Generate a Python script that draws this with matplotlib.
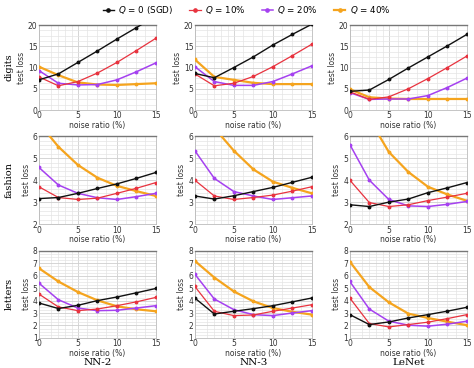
import matplotlib
matplotlib.use("Agg")
import matplotlib.pyplot as plt
from matplotlib.ticker import MultipleLocator, FixedLocator

# noise ratio (%)
noise = [0, 2.5, 5, 7.5, 10, 12.5, 15]

labels = ["$Q$ = 0 (SGD)", "$Q$ = 10%", "$Q$ = 20%", "$Q$ = 40%"]
colors = ["#111111", "#e8333f", "#a541f0", "#f5a41e"]
widths = [1.0, 0.9, 1.1, 1.6]

datasets = ["digits", "fashion", "letters"]
models = ["NN-2", "NN-3", "LeNet"]

# test loss, one list per Q setting: [Q0, Q10, Q20, Q40]
digits_nn2 = [[7.1, 8.5, 11.2, 13.9, 16.7, 19.4, 22.1],
              [7.8, 5.7, 6.7, 8.7, 11.2, 14.0, 16.9],
              [9.3, 6.3, 5.9, 6.0, 7.1, 9.0, 11.1],
              [10.2, 8.2, 6.5, 6.0, 5.9, 6.1, 6.3]]
digits_nn3 = [[8.6, 7.6, 10.0, 12.5, 15.3, 17.8, 20.2],
              [8.5, 5.7, 6.3, 7.9, 10.2, 12.8, 15.5],
              [10.2, 6.7, 5.8, 5.8, 6.7, 8.5, 10.4],
              [11.9, 7.8, 7.1, 6.4, 6.1, 6.1, 6.1]]
digits_lenet = [[4.4, 4.7, 7.2, 9.9, 12.5, 15.1, 17.8],
                [4.3, 2.5, 3.1, 5.0, 7.4, 10.0, 12.7],
                [4.1, 2.5, 2.6, 2.6, 3.4, 5.3, 7.5],
                [4.9, 3.0, 2.7, 2.6, 2.6, 2.6, 2.6]]

fashion_nn2 = [[3.16, 3.21, 3.40, 3.62, 3.83, 4.08, 4.35],
               [3.70, 3.21, 3.12, 3.18, 3.40, 3.63, 3.89],
               [4.58, 3.78, 3.40, 3.20, 3.12, 3.25, 3.40],
               [6.60, 5.52, 4.69, 4.11, 3.74, 3.50, 3.28]]
fashion_nn3 = [[3.28, 3.14, 3.29, 3.48, 3.67, 3.90, 4.13],
               [4.00, 3.28, 3.12, 3.21, 3.32, 3.50, 3.70],
               [5.34, 4.08, 3.48, 3.28, 3.12, 3.20, 3.28],
               [7.50, 6.37, 5.34, 4.49, 3.93, 3.65, 3.40]]
fashion_lenet = [[2.88, 2.80, 3.00, 3.14, 3.43, 3.65, 3.89],
                 [4.00, 2.98, 2.80, 2.88, 3.07, 3.23, 3.40],
                 [5.62, 4.00, 3.12, 2.83, 2.80, 2.90, 3.03],
                 [8.50, 6.78, 5.28, 4.37, 3.70, 3.35, 3.06]]

letters_nn2 = [[3.81, 3.36, 3.62, 4.00, 4.29, 4.63, 4.98],
               [4.53, 3.49, 3.19, 3.32, 3.59, 3.90, 4.26],
               [5.41, 4.07, 3.40, 3.19, 3.22, 3.40, 3.59],
               [6.61, 5.54, 4.69, 4.02, 3.54, 3.30, 3.14]]
letters_nn3 = [[4.21, 2.92, 3.14, 3.35, 3.59, 3.90, 4.21],
               [5.14, 3.14, 2.79, 2.84, 3.14, 3.40, 3.67],
               [6.13, 4.13, 3.27, 2.87, 2.79, 3.00, 3.19],
               [7.20, 5.86, 4.74, 3.94, 3.40, 3.10, 2.87]]
letters_lenet = [[2.87, 2.07, 2.28, 2.60, 2.87, 3.15, 3.46],
                 [4.21, 2.15, 1.88, 2.07, 2.26, 2.55, 2.87],
                 [5.54, 3.32, 2.34, 2.02, 1.94, 2.10, 2.34],
                 [7.14, 5.09, 3.86, 2.95, 2.60, 2.30, 2.02]]

results = [[digits_nn2, digits_nn3, digits_lenet],
           [fashion_nn2, fashion_nn3, fashion_lenet],
           [letters_nn2, letters_nn3, letters_lenet]]

y_limits = [(0, 20), (2, 6), (1, 8)]
y_major = [5, 1, 1]
y_minor = [1.25, 0.2, 0.25]
x_minor = [1.5, 2.5, 3.3, 4.2, 6.2, 7.5, 8.6, 11.2, 12.5, 13.6]

fig = plt.figure(figsize=(4.74, 3.68), dpi=100)

lefts = [0.082, 0.411, 0.738]
bottoms = [0.701, 0.391, 0.082]
heights = [0.231, 0.239, 0.236]
w = 0.247

handles = []
for r in range(3):
    for c in range(3):
        ax = fig.add_axes([lefts[c], bottoms[r], w, heights[r]])
        for k in range(4):
            line, = ax.plot(noise, results[r][c][k], color=colors[k], lw=widths[k],
                            marker="o", ms=1.8, label=labels[k], zorder=3 + (3 - k) * 0.1)
            if r == 0 and c == 0:
                handles.append(line)
        ax.set_xlim(0, 15)
        ax.set_ylim(*y_limits[r])
        ax.xaxis.set_major_locator(MultipleLocator(5))
        ax.xaxis.set_minor_locator(FixedLocator(x_minor))
        ax.yaxis.set_major_locator(MultipleLocator(y_major[r]))
        ax.yaxis.set_minor_locator(MultipleLocator(y_minor[r]))
        ax.grid(True, which="major", color="#cfcfcf", lw=0.6)
        ax.grid(True, which="minor", color="#e4e4e4", lw=0.5)
        ax.tick_params(which="both", length=0, labelsize=5.5, pad=1, colors="#333333")
        for s in ["left", "bottom", "right"]:
            ax.spines[s].set_color("#bbbbbb")
            ax.spines[s].set_linewidth(0.6)
        ax.spines["top"].set_color("#777777")
        ax.spines["top"].set_linewidth(1.0)
        ax.set_xlabel("noise ratio (%)", fontsize=5.5, labelpad=0.5, color="#333333")
        ax.set_ylabel("test loss", fontsize=5.5, labelpad=1.5, color="#333333")
        if c == 0:
            fig.text(0.02, bottoms[r] + heights[r] / 2, datasets[r], rotation=90,
                     ha="center", va="center", fontsize=7, family="DejaVu Serif")
        if r == 2:
            fig.text(lefts[c] + w / 2, 0.016, models[c], ha="center", va="center",
                     fontsize=7.5, family="DejaVu Serif")

fig.legend(handles=handles, loc="upper center", bbox_to_anchor=(0.52, 1.01), ncol=4,
           frameon=False, fontsize=6.3, handlelength=1.3, columnspacing=1.8,
           handletextpad=0.5, markerscale=1.3)

fig.savefig("out.png", dpi=100)
